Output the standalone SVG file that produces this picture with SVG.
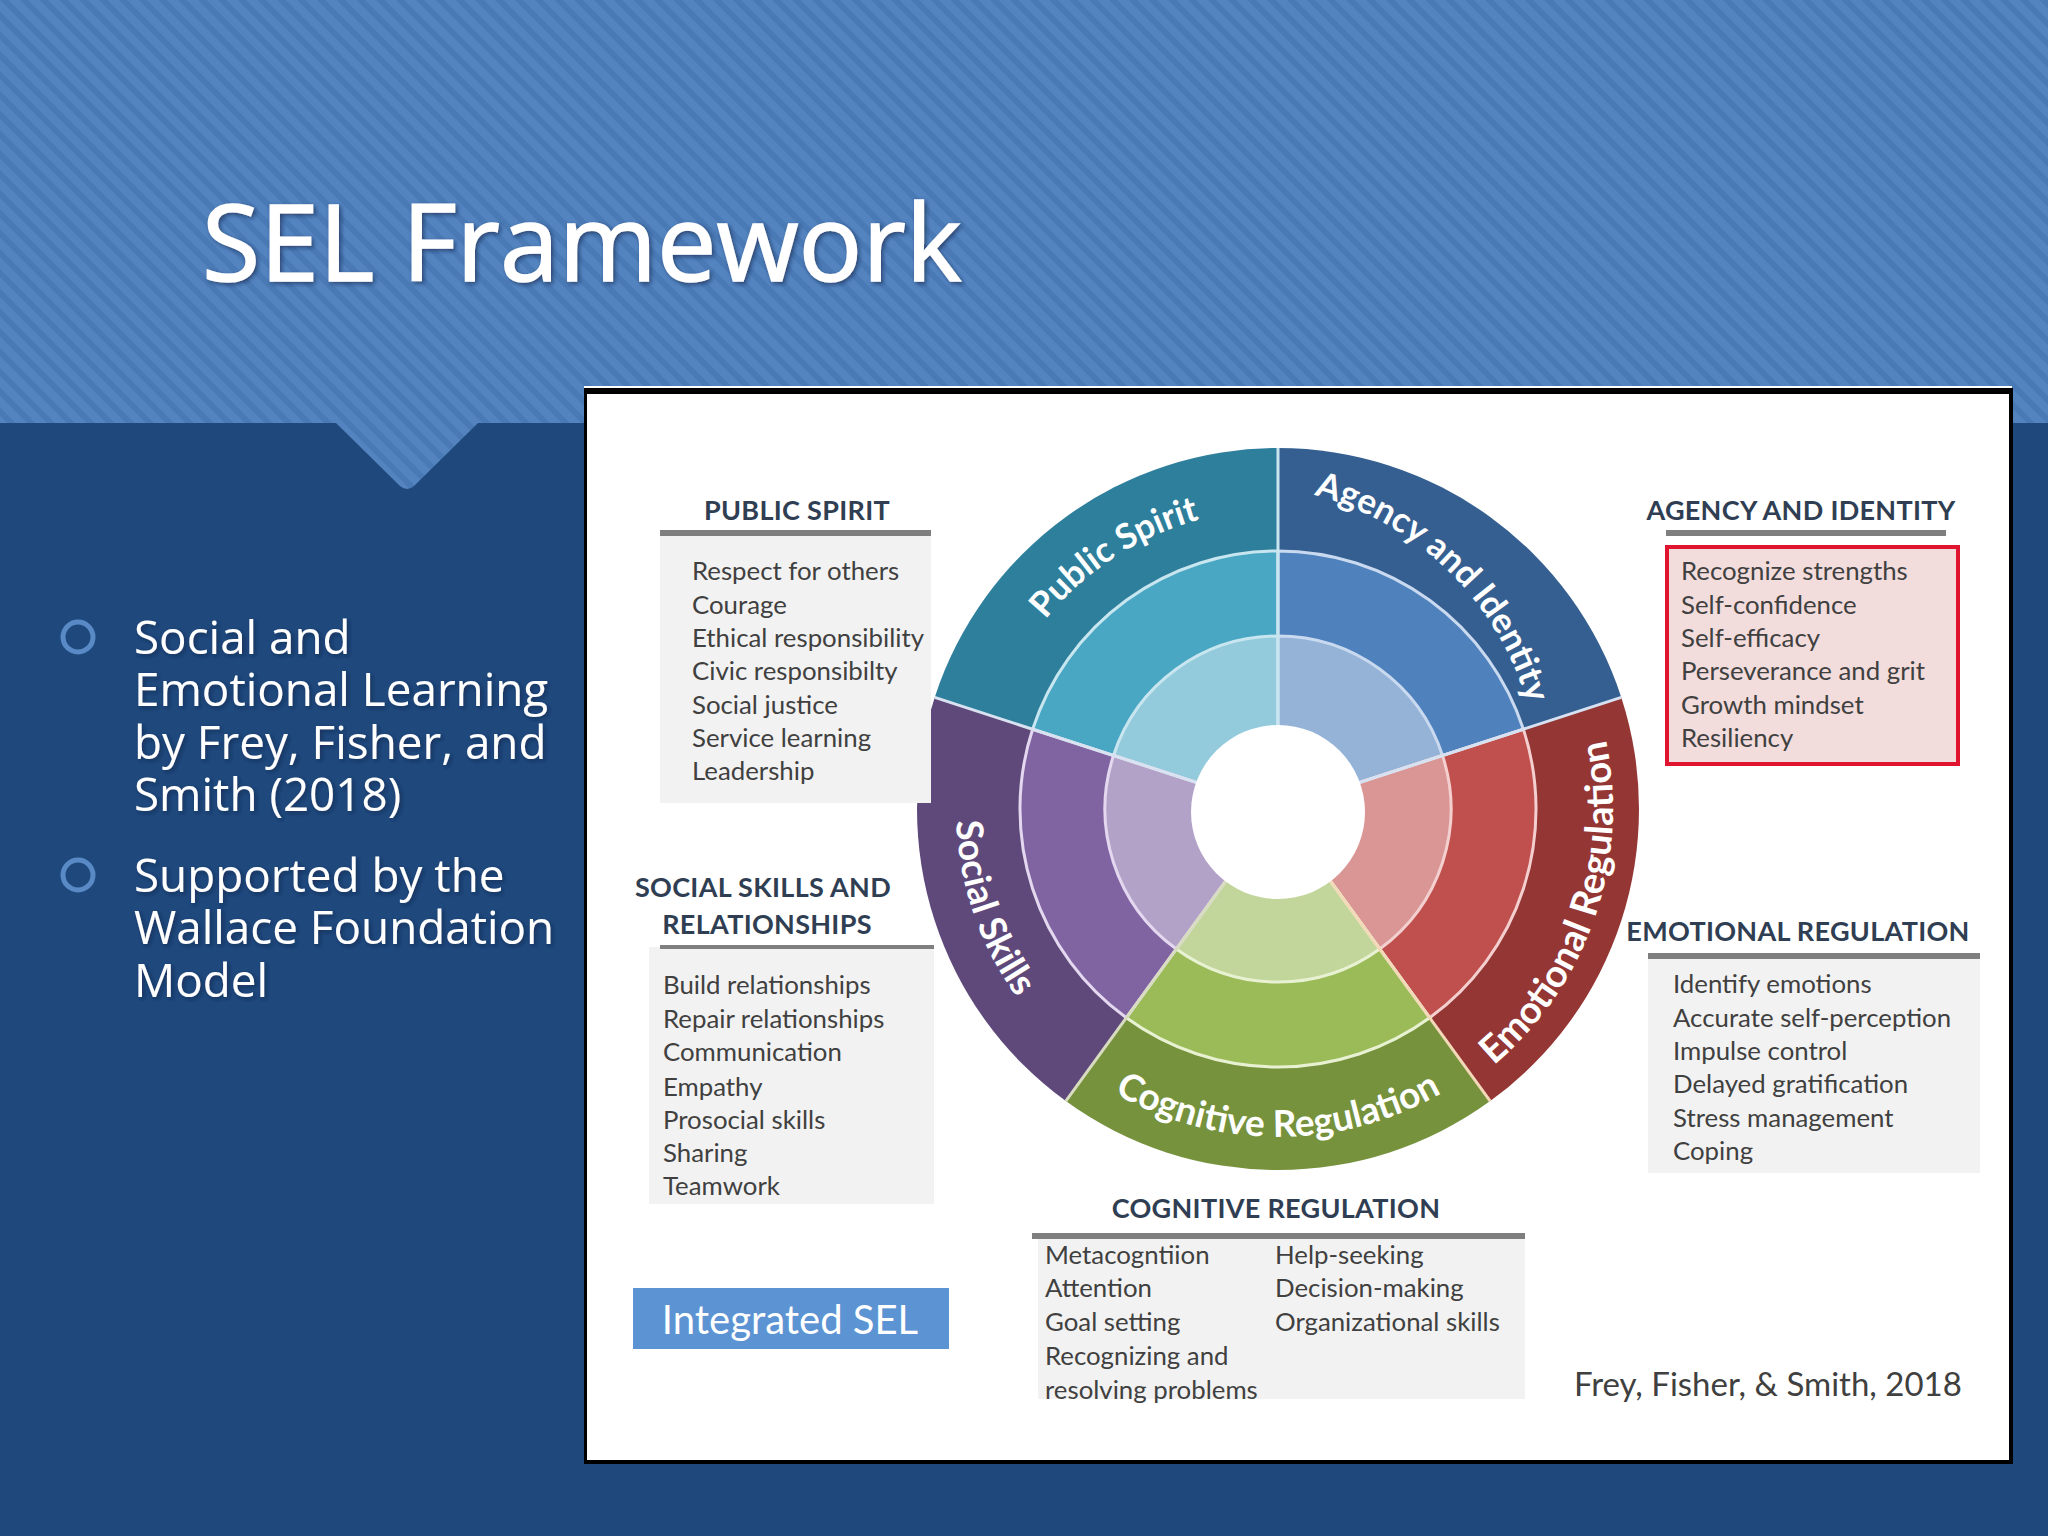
<svg xmlns="http://www.w3.org/2000/svg" width="2048" height="1536" viewBox="0 0 2048 1536">
<style>
.li{font-family:"Lato","Liberation Sans",sans-serif;font-size:25.8px;fill:#404040}
.hd{font-family:"Lato","Liberation Sans",sans-serif;font-size:27px;font-weight:700;letter-spacing:.3px;fill:#2f3e52;text-anchor:middle}
.ring{font-family:"Lato","Liberation Sans",sans-serif;font-size:37px;font-weight:700;fill:#fff;text-anchor:middle}
.bul{font-family:"Open Sans","Liberation Sans",sans-serif;font-size:45.8px;fill:#fff;filter:url(#soft)}
.box{fill:#f2f2f2}
.rule{stroke:#7f7f7f;stroke-width:6;fill:none}
.bc{fill:none;stroke:#5a8ac6;stroke-width:5}
.sl{stroke-width:3}
</style>
<defs>
<pattern id="stripes" width="14" height="14" patternUnits="userSpaceOnUse" patternTransform="rotate(-45)">
<rect width="14" height="14" fill="#5384c0"/><rect width="6" height="14" fill="#4a7ab5"/>
</pattern>
<filter id="soft" x="-10%" y="-20%" width="125%" height="150%"><feDropShadow dx="2" dy="2" stdDeviation="2" flood-color="#0a2040" flood-opacity=".6"/></filter>
<path id="pPublic" d="M978.7 829.9A300 300 0 0 1 1409.5 539.4"/>
<path id="pAgency" d="M1314 495A302 302 0 0 1 1539 787"/>
<path id="pEmotional" d="M1336.2 1138.9A335 335 0 0 0 1534.6 593.7"/>
<path id="pCognitive" d="M994 973A328 328 0 0 0 1562 973"/>
<path id="pSocial" d="M1031.3 602A322 322 0 0 0 1222.1 1126.1"/>
</defs>
<rect id="bg-lower" width="2048" height="1536" fill="#1f497d"/>
<path id="bg-header" d="M0 0H2048V423H478L414 486Q407 492 400 486L336 423H0Z" fill="url(#stripes)"/>
<text id="title" x="202" y="281" font-family="Open Sans, Liberation Sans, sans-serif" font-size="106" fill="#fff" stroke="#fff" stroke-width="1.5" filter="url(#soft)">SEL Framework</text>
<g id="bullets">
<circle class="bc" cx="78" cy="637" r="15"/>
<text class="bul"><tspan x="134" y="654">Social and</tspan><tspan x="134" y="706">Emotional Learning</tspan><tspan x="134" y="759">by Frey, Fisher, and</tspan><tspan x="134" y="811">Smith (2018)</tspan></text>
<circle class="bc" cx="78" cy="875" r="15"/>
<text class="bul"><tspan x="134" y="892">Supported by the</tspan><tspan x="134" y="944">Wallace Foundation</tspan><tspan x="134" y="997">Model</tspan></text>
</g>
<g id="picture-frame">
<rect x="584" y="386" width="1428" height="2" fill="#fff"/>
<rect x="584" y="388" width="1429" height="1076" fill="#000"/>
<rect x="587" y="394" width="1422" height="1066" fill="#fff"/>
</g>
<g id="wheel">
<g id="wedge-public"><path d="M1278 809L934.7 697.4A361 361 0 0 1 1278 448Z" fill="#2e7f9c"/><path class="sl" stroke="#c8e6ef" d="M1278 809L1032.6 729.3A258 258 0 0 1 1278 551Z" fill="#4aa7c3"/><path class="sl" stroke="#c8e6ef" d="M1278 809L1113.5 755.5A173 173 0 0 1 1278 636Z" fill="#93cbdc"/></g>
<g id="wedge-agency"><path d="M1278 809V448A361 361 0 0 1 1621.3 697.4Z" fill="#365f91"/><path class="sl" stroke="#c9daf0" d="M1278 809V551A258 258 0 0 1 1523.4 729.3Z" fill="#4f81bd"/><path class="sl" stroke="#c9daf0" d="M1278 809V636A173 173 0 0 1 1442.5 755.5Z" fill="#95b3d7"/></g>
<g id="wedge-emotional"><path d="M1278 809L1621.3 697.4A361 361 0 0 1 1490.2 1101.1Z" fill="#943634"/><path class="sl" stroke="#f3d0cf" d="M1278 809L1523.4 729.3A258 258 0 0 1 1429.7 1017.7Z" fill="#c0504d"/><path class="sl" stroke="#f3d0cf" d="M1278 809L1442.5 755.5A173 173 0 0 1 1379.7 949Z" fill="#d99694"/></g>
<g id="wedge-cognitive"><path d="M1278 809L1490.2 1101.1A361 361 0 0 1 1065.8 1101.1Z" fill="#76923c"/><path class="sl" stroke="#e8f2d2" d="M1278 809L1429.7 1017.7A258 258 0 0 1 1126.3 1017.7Z" fill="#9bbb59"/><path class="sl" stroke="#e8f2d2" d="M1278 809L1379.7 949A173 173 0 0 1 1176.3 949Z" fill="#c2d69b"/></g>
<g id="wedge-social"><path d="M1278 809L1065.8 1101.1A361 361 0 0 1 934.7 697.4Z" fill="#5f497a"/><path class="sl" stroke="#e4d8f0" d="M1278 809L1126.3 1017.7A258 258 0 0 1 1032.6 729.3Z" fill="#8064a2"/><path class="sl" stroke="#e4d8f0" d="M1278 809L1176.3 949A173 173 0 0 1 1113.5 755.5Z" fill="#b2a2c7"/></g>
<g id="dividers" fill="none" stroke-width="3">
<path stroke="#c8e6ef" d="M1278 809V448"/>
<path stroke="#d6e2f2" d="M1278 809L1621.3 697.4"/>
<path stroke="#f3d9b8" d="M1278 809L1490.2 1101.1"/>
<path stroke="#d8dcc0" d="M1278 809L1065.8 1101.1"/>
<path stroke="#d9e2f0" d="M1278 809L934.7 697.4"/>
</g>
<circle id="hub" cx="1278" cy="812" r="87" fill="#fff"/>
<text class="ring" style="font-size:35px" transform="rotate(1 1278 809)"><textPath href="#pPublic" startOffset="50%">Public Spirit</textPath></text>
<text class="ring" style="font-size:35px;text-anchor:start"><textPath href="#pAgency">Agency and Identity</textPath></text>
<text class="ring" style="font-size:38px" transform="rotate(-1 1278 809)"><textPath href="#pEmotional" startOffset="50%">Emotional Regulation</textPath></text>
<text class="ring"><textPath href="#pCognitive" startOffset="50%">Cognitive Regulation</textPath></text>
<text class="ring" transform="rotate(1 1278 809)"><textPath href="#pSocial" startOffset="50%">Social Skills</textPath></text>
</g>
<g id="public-spirit">
<rect class="box" x="660" y="533" width="271" height="270"/>
<path class="rule" d="M660 533H931"/>
<text class="hd" x="797" y="520">PUBLIC SPIRIT</text>
<text class="li"><tspan x="692" y="580">Respect for others</tspan><tspan x="692" y="614">Courage</tspan><tspan x="692" y="647">Ethical responsibility</tspan><tspan x="692" y="680">Civic responsibilty</tspan><tspan x="692" y="714">Social justice</tspan><tspan x="692" y="747">Service learning</tspan><tspan x="692" y="780">Leadership</tspan></text>
</g>
<g id="social-skills">
<rect class="box" x="649" y="947" width="285" height="257"/>
<path class="rule" style="stroke-width:4" d="M660 947H934"/>
<text class="hd"><tspan x="763" y="897">SOCIAL SKILLS AND</tspan><tspan x="767" y="934">RELATIONSHIPS</tspan></text>
<text class="li"><tspan x="663" y="994">Build relationships</tspan><tspan x="663" y="1028">Repair relationships</tspan><tspan x="663" y="1061">Communication</tspan><tspan x="663" y="1096">Empathy</tspan><tspan x="663" y="1129">Prosocial skills</tspan><tspan x="663" y="1162">Sharing</tspan><tspan x="663" y="1195">Teamwork</tspan></text>
</g>
<g id="agency-identity">
<path class="rule" d="M1666 533H1946"/>
<rect x="1667" y="547" width="291" height="217" fill="#f2dcdc" stroke="#e0142e" stroke-width="4"/>
<text class="hd" x="1801" y="520">AGENCY AND IDENTITY</text>
<text class="li"><tspan x="1681" y="580">Recognize strengths</tspan><tspan x="1681" y="614">Self-confidence</tspan><tspan x="1681" y="647">Self-efficacy</tspan><tspan x="1681" y="680">Perseverance and grit</tspan><tspan x="1681" y="714">Growth mindset</tspan><tspan x="1681" y="747">Resiliency</tspan></text>
</g>
<g id="emotional-regulation">
<rect class="box" x="1648" y="956" width="332" height="217"/>
<path class="rule" d="M1648 956H1980"/>
<text class="hd" x="1798" y="941">EMOTIONAL REGULATION</text>
<text class="li"><tspan x="1673" y="993">Identify emotions</tspan><tspan x="1673" y="1027">Accurate self-perception</tspan><tspan x="1673" y="1060">Impulse control</tspan><tspan x="1673" y="1093">Delayed gratification</tspan><tspan x="1673" y="1127">Stress management</tspan><tspan x="1673" y="1160">Coping</tspan></text>
</g>
<g id="cognitive-regulation">
<rect class="box" x="1038" y="1235" width="487" height="164"/>
<path class="rule" d="M1032 1236H1525"/>
<text class="hd" x="1276" y="1218">COGNITIVE REGULATION</text>
<text class="li"><tspan x="1045" y="1264">Metacogntiion</tspan><tspan x="1045" y="1297">Attention</tspan><tspan x="1045" y="1331">Goal setting</tspan><tspan x="1045" y="1365">Recognizing and</tspan><tspan x="1045" y="1399">resolving problems</tspan></text>
<text class="li"><tspan x="1275" y="1264">Help-seeking</tspan><tspan x="1275" y="1297">Decision-making</tspan><tspan x="1275" y="1331">Organizational skills</tspan></text>
</g>
<g id="integrated-sel">
<rect x="633" y="1288" width="316" height="61" fill="#5b93d3"/>
<text x="790" y="1334" text-anchor="middle" font-family="Lato, Liberation Sans, sans-serif" font-size="40" fill="#fff">Integrated SEL</text>
</g>
<text id="credit" x="1574" y="1396" font-family="Lato, Liberation Sans, sans-serif" font-size="33" fill="#404040">Frey, Fisher, &amp; Smith, 2018</text>
</svg>
